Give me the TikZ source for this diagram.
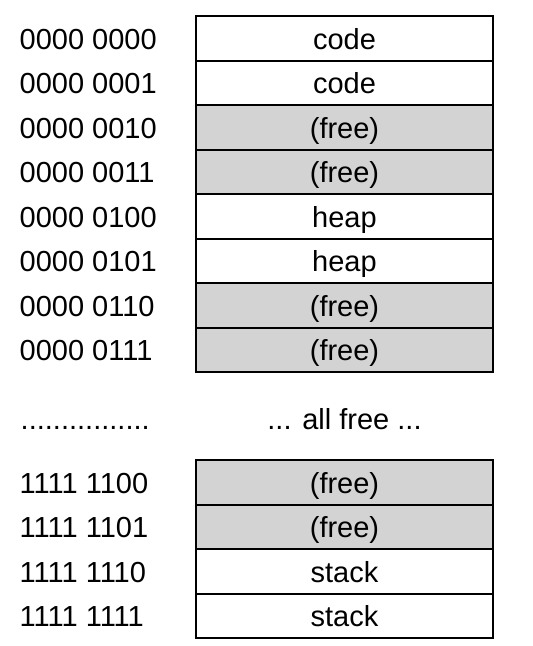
\documentclass[tikz,border=0pt]{standalone}
\usepackage{fontspec}
\setmainfont{Liberation Sans}
\definecolor{freegray}{HTML}{D3D3D3}
\begin{document}
\begin{tikzpicture}[x=1pt,y=-1pt,
  txt/.style={inner sep=0pt, font=\fontsize{29}{31}\selectfont, text height=24pt, text depth=2pt},
  cell/.style={txt, draw=black, line width=2pt, fill=white, minimum width=297pt, minimum height=44.5pt},
  freecell/.style={cell, fill=freegray},
  addr/.style={txt, anchor=west}]
\useasboundingbox (0,0) rectangle (533,646);
% top block
\foreach \i/\lab/\st/\ad in {0/code/cell/0000 0000, 1/code/cell/0000 0001, 2/(free)/freecell/0000 0010, 3/(free)/freecell/0000 0011, 4/heap/cell/0000 0100, 5/heap/cell/0000 0101, 6/(free)/freecell/0000 0110, 7/(free)/freecell/0000 0111}{
  \node[\st] (t\i) at (344.5, 38.25+44.5*\i) {\lab};
  \node[addr] (ta\i) at (19.5, 38.25+44.5*\i) {\ad};
}
% gap
\node[txt, anchor=west] (dots) at (20.5, 418) {................};
\node[txt] (allfree) at (344.5, 418) {... all free ...};
% bottom block
\foreach \j/\lab/\st/\ad in {0/(free)/freecell/1111 1100, 1/(free)/freecell/1111 1101, 2/stack/cell/1111 1110, 3/stack/cell/1111 1111}{
  \node[\st] (b\j) at (344.5, 482.25+44.5*\j) {\lab};
  \node[addr] (ba\j) at (19.5, 482.25+44.5*\j) {\ad};
}
\end{tikzpicture}
\end{document}
